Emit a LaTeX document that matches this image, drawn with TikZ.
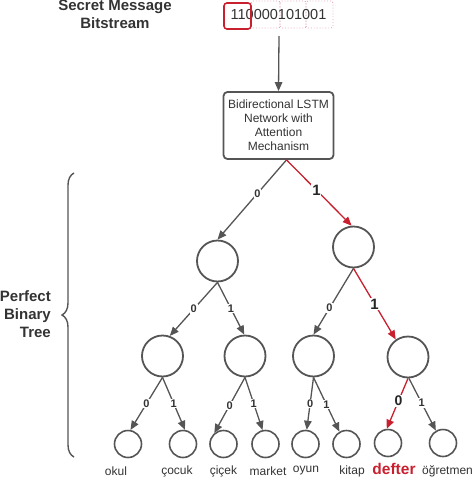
\documentclass[tikz,border=0pt]{standalone}
\usepackage{fontspec}
\setmainfont{Liberation Sans}
\usetikzlibrary{arrows.meta,decorations.pathreplacing}
\definecolor{lgray}{HTML}{555555}
\definecolor{txt}{HTML}{333333}
\definecolor{pathred}{HTML}{C8202F}
\definecolor{pinkdot}{HTML}{E7A3B5}
\tikzset{
  bigc/.style={circle, draw=lgray, line width=1.8pt, minimum size=41pt, inner sep=0pt},
  leafc/.style={circle, draw=lgray, line width=1.6pt, minimum size=27pt, inner sep=0pt},
  edge/.style={draw=lgray, line width=1.3pt, -{Triangle[length=9pt,width=7.5pt]}},
  redge/.style={draw=pathred, line width=1.3pt, -{Triangle[length=9pt,width=7.5pt]}},
  lab/.style={fill=white, inner sep=0.8pt, text=txt, font=\bfseries\fontsize{11}{12}\selectfont},
  biglab/.style={fill=white, inner sep=0.8pt, text=black!85, font=\bfseries\fontsize{15}{16}\selectfont},
  leaflab/.style={text=txt, inner sep=0pt, font=\fontsize{12}{14}\selectfont},
  title/.style={text=txt, inner sep=0pt, align=center, font=\bfseries\fontsize{15}{18}\selectfont},
}
\begin{document}
\begin{tikzpicture}[x=1pt,y=-1pt]
\useasboundingbox (0,0) rectangle (474,477);

% title
\node[title] (ttl) at (115,14.5) {Secret Message\\Bitstream};

% bitstream
\draw[pinkdot, line width=0.9pt, dotted, rounded corners=2pt] (251,1) rectangle (280,28);
\draw[pinkdot, line width=0.9pt, dotted, rounded corners=2pt] (280,1) rectangle (306,28);
\draw[pinkdot, line width=0.9pt, dotted, rounded corners=2pt] (306,1) rectangle (333,28);
\node[text=txt, inner sep=0pt, font=\fontsize{14.5}{16}\selectfont] (bits) at (278.5,15) {110000101001};
\draw[pathred, line width=1.6pt, rounded corners=3pt] (224,3) rectangle (251,29);
\coordinate (bo) at (279,36);

% LSTM box
\node[draw=lgray, line width=1.8pt, rounded corners=4pt, minimum width=110pt, minimum height=67pt,
      align=center, text=txt, inner sep=0pt, font=\fontsize{12}{14}\selectfont]
      (lstm) at (278.5,125.5) {Bidirectional LSTM\\Network with\\Attention\\Mechanism};
\draw[edge] (bo) -- (lstm.north);

% level 1
\node[bigc] (n0) at (217.5,261) {};
\node[bigc] (n1) at (353.5,247) {};
% level 2
\node[bigc] (A) at (162.5,356) {};
\node[bigc] (B) at (245,356) {};
\node[bigc] (C) at (313.5,356) {};
\node[bigc] (D) at (408,357) {};
% leaves
\node[leafc] (l1) at (128,444) {};
\node[leafc] (l2) at (183,444) {};
\node[leafc] (l3) at (223.5,444) {};
\node[leafc] (l4) at (265.5,444) {};
\node[leafc] (l5) at (305.5,444) {};
\node[leafc] (l6) at (346.5,444) {};
\node[leafc] (l7) at (388,443) {};
\node[leafc] (l8) at (443,443) {};

% edges from LSTM
\draw[edge] ([xshift=8pt]lstm.south) -- node[lab, pos=.42] {0} (n0.90);
\draw[redge] ([xshift=8pt]lstm.south) -- node[biglab, pos=.46] {1} (n1.95);

% level 1 -> level 2
\draw[edge] (n0.south) -- node[lab, pos=.5] {0} (A.70);
\draw[edge] (n0.south) -- node[lab, pos=.5] {1} (B.92);
\draw[edge] (n1.south) -- node[lab, pos=.6] {0} (C.90);
\draw[redge] (n1.south) -- node[biglab, pos=.5] {1} (D.125);

% level 2 -> leaves
\draw[edge] (A.south) -- node[lab, pos=.5] {0} (l1.80);
\draw[edge] (A.south) -- node[lab, pos=.5] {1} (l2.82);
\draw[edge] (B.south) -- node[lab, pos=.5] {0} (l3.130);
\draw[edge] (B.south) -- node[lab, pos=.5] {1} (l4.102);
\draw[edge] (C.south) -- node[lab, pos=.5] {0} (l5.85);
\draw[edge] (C.south) -- node[lab, pos=.5] {1} (l6.120);
\draw[redge] (D.south) -- node[biglab, pos=.45, font=\bfseries\fontsize{14}{15}\selectfont] {0} (l7.95);
\draw[edge] ([xshift=1pt]D.south) -- node[lab, pos=.47] {1} (l8.120);

% leaf labels
\node[leaflab] (w1) at (116,471) {okul};
\node[leaflab] (w2) at (177,471) {çocuk};
\node[leaflab] (w3) at (223.5,471) {çiçek};
\node[leaflab] (w4) at (268,471) {market};
\node[leaflab] (w5) at (306,471) {oyun};
\node[leaflab] (w6) at (352,471) {kitap};
\node[leaflab, text=pathred, font=\bfseries\fontsize{15.5}{16}\selectfont] (w7) at (394,469) {defter};
\node[leaflab, anchor=west] (w8) at (422,471) {öğretmen};

% brace
\draw[lgray, line width=1.4pt, decorate, decoration={brace, amplitude=12pt}] (74,457) -- (74,173);
\node[title, align=right, anchor=east] (pbt) at (51,314.5) {Perfect\\Binary\\Tree};
\end{tikzpicture}
\end{document}
